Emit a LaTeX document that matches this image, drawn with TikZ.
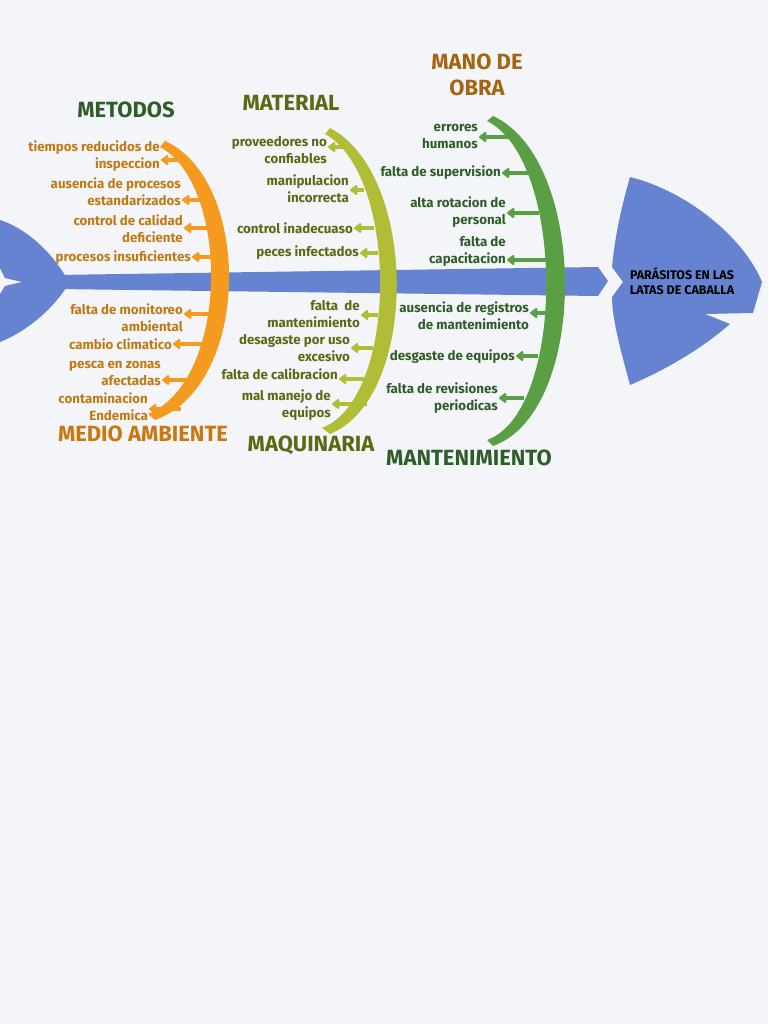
\documentclass[tikz,border=0pt]{standalone}
\usepackage{fontspec}
\setmainfont{Fira Sans}
\usepackage{tikz}
\usetikzlibrary{arrows.meta,positioning,calc}
\definecolor{fondo}{HTML}{F4F5F9}
\definecolor{azulPez}{HTML}{6583D0}
\definecolor{naranja}{HTML}{F39A1F}
\definecolor{naranjaTexto}{HTML}{C07A14}
\definecolor{medioTexto}{HTML}{C9770F}
\definecolor{oliva}{HTML}{B2BD37}
\definecolor{olivaTexto}{HTML}{5A6A14}
\definecolor{verde}{HTML}{5B9F44}
\definecolor{verdeTexto}{HTML}{2F5D2A}
\definecolor{cafe}{HTML}{A5640F}

\begin{document}
\begin{tikzpicture}[x=1pt,y=-1pt,
    causa/.style={align=right,anchor=east,inner sep=1pt,
                  font=\fontsize{13.3}{17}\selectfont\bfseries},
    titulo/.style={align=center,inner sep=0pt,
                   font=\fontsize{22}{26}\selectfont\bfseries},
    flecha/.style={->,line width=3.4pt},
    >={Triangle[round,length=8pt,width=11.5pt]}]
  \fill[fondo] (0,0) rectangle (768,1024);

  % Esqueleto del pez: cola, espina y cabeza
  \fill[azulPez] (0,220) .. controls (25,228) and (50,250) .. (66,277)
    -- (66,288) .. controls (50,312) and (25,332) .. (0,342)
    -- (0,294) -- (5,286) -- (22,282) -- (5,278) -- (0,268) -- cycle;
  \fill[azulPez] (55,275) -- (598,267) -- (608,281) -- (598,296)
    -- (55,289) -- cycle;
  \fill[azulPez] (630,177) .. controls (690,192) and (745,240) .. (762,282)
    -- (753,313) -- (705,314) -- (730,324)
    .. controls (700,350) and (665,370) .. (630,385)
    .. controls (622,355) and (612,320) .. (612,297) -- (623,282)
    -- (612,267) .. controls (615,235) and (622,205) .. cycle;
  \node[font=\fontsize{12.5}{15}\selectfont\bfseries,align=center] (efecto)
    at (682,281) {PARÁSITOS EN LAS\\LATAS DE CABALLA};

  % Arcos de cada par de categorias
  \fill[naranja] (165,141) .. controls (252,180) and (252,385) .. (155,420)
    -- (148,414) .. controls (230,380) and (230,185) .. (160,147) -- cycle;
  \fill[oliva] (330,128) .. controls (419,175) and (419,398) .. (330,434)
    -- (322,428) .. controls (399,398) and (399,175) .. (325,134) -- cycle;
  \fill[verde] (493,116) .. controls (589,160) and (589,412) .. (493,446)
    -- (487,440) .. controls (566,412) and (566,160) .. (487,121) -- cycle;

  % Metodos / Medio ambiente
  \foreach \n/\xa/\ya/\xt/\yt/\txt in {
      1/184/160/161/156.5/{tiempos reducidos de\\inspeccion},
      2/215/200/182/191.5/{ausencia de procesos\\estandarizados},
      3/211/228/184/229/{control de calidad\\deficiente},
      4/212/257/192/258/{procesos insuficientes},
      5/211/314/184/317.5/{falta de monitoreo\\ambiental},
      6/206/344/173/344/{cambio climatico},
      7/194/380/162/373/{pesca en zonas\\afectadas},
      8/181/409/149/406.5/{contaminacion\\Endemica}}{
    \coordinate (pm\n) at (\xa,\ya);
    \node[causa,naranjaTexto] (m\n) at (\xt,\yt) {\txt};
    \draw[flecha,naranja] (pm\n) -- (pm\n -| m\n.east);
  }

  % Material / Maquinaria
  \foreach \n/\xa/\ya/\xt/\yt/\txt in {
      1/348/147/328/150/{proveedores no\\confiables},
      2/364/190/350/188.5/{manipulacion\\incorrecta},
      3/374/228/354/228/{control inadecuaso},
      4/378/253/360/253/{peces infectados},
      5/378/315/361/314/{falta\ \ de\\mantenimiento},
      6/373/348/351/348.5/{desagaste por uso\\excesivo},
      7/364/379/339/374/{falta de calibracion},
      8/367/404/332/405/{mal manejo de\\equipos}}{
    \coordinate (pt\n) at (\xa,\ya);
    \node[causa,olivaTexto] (t\n) at (\xt,\yt) {\txt};
    \draw[flecha,oliva] (pt\n) -- (pt\n -| t\n.east);
  }

  % Mano de obra / Mantenimiento
  \foreach \n/\xa/\ya/\xt/\yt/\txt in {
      1/511/137/479/136.5/{errores\\humanos},
      2/528/173/502/173/{falta de supervision},
      3/539/213/507/212/{alta rotacion de\\personal},
      4/546/260/507/251.5/{falta de\\capacitacion},
      5/564/313/530/316/{ausencia de registros\\de mantenimiento},
      6/538/356/516/357/{desgaste de equipos},
      7/524/398/499/398/{falta de revisiones\\periodicas}}{
    \coordinate (po\n) at (\xa,\ya);
    \node[causa,verdeTexto] (o\n) at (\xt,\yt) {\txt};
    \draw[flecha,verde] (po\n) -- (po\n -| o\n.east);
  }

  % Titulos de categoria
  \node[titulo,verdeTexto] (metodos) at (126,110) {METODOS};
  \node[titulo,medioTexto] (medio) at (143,434) {MEDIO AMBIENTE};
  \node[titulo,olivaTexto] (material) at (291,103) {MATERIAL};
  \node[titulo,olivaTexto] (maquinaria) at (311,445) {MAQUINARIA};
  \node[titulo,cafe] (manoObra) at (477,75) {MANO DE\\OBRA};
  \node[titulo,verdeTexto] (mantenimiento) at (469,458) {MANTENIMIENTO};
\end{tikzpicture}
\end{document}
